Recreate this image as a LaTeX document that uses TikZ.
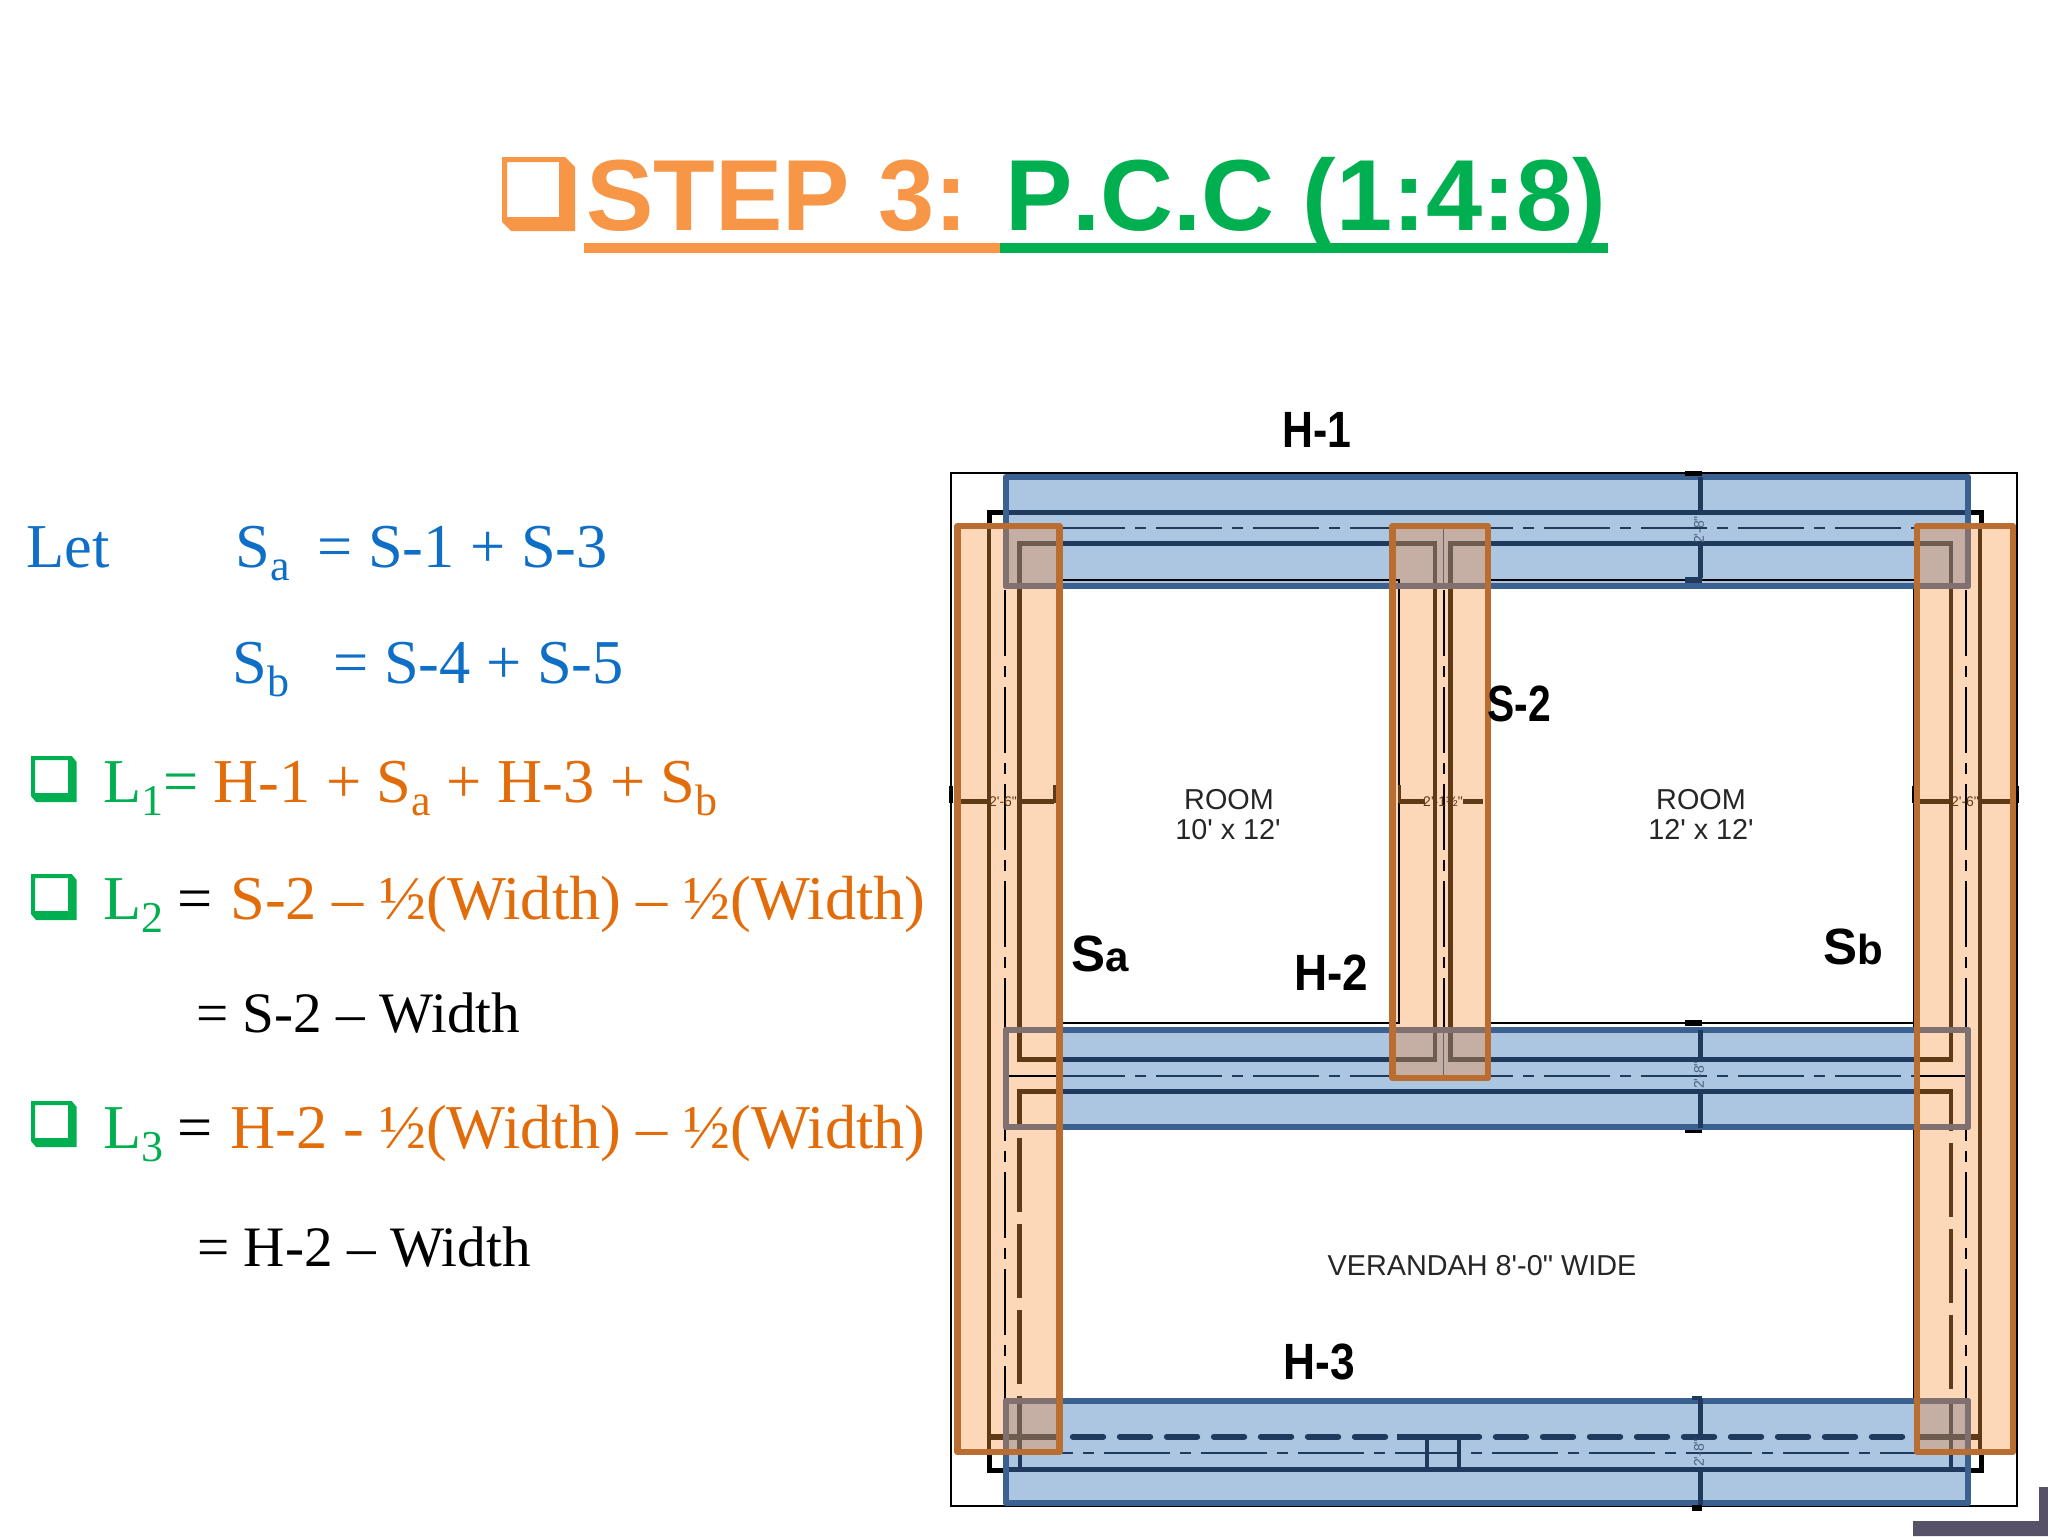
\documentclass[tikz,border=0pt]{standalone}
\usepackage{fontspec}
\setmainfont{Liberation Serif}
\newfontfamily\arial{Liberation Sans}
\newfontfamily\arialnk[Kerning=Off]{Liberation Sans}
\usetikzlibrary{calc}
\definecolor{hfill}{HTML}{ACC5E0}
\definecolor{hline}{HTML}{3A6190}
\definecolor{sfill}{HTML}{FDD8B8}
\definecolor{sline}{HTML}{B96D30}
\definecolor{mixfill}{HTML}{C5AFA5}
\definecolor{mixline}{HTML}{80706F}
\definecolor{mixdark}{HTML}{6E5C50}
\definecolor{navy}{HTML}{1F3A5C}
\definecolor{brownl}{HTML}{5E3A17}
\definecolor{ttlor}{HTML}{F79646}
\definecolor{ttlgr}{HTML}{00B050}
\definecolor{eqblue}{HTML}{0F6FC6}
\definecolor{eqor}{HTML}{E36C0A}
\definecolor{corner}{HTML}{585268}
\tikzset{
 hbox/.style={draw=hline,line width=3pt,line join=round},
 hgray/.style={draw=mixline,line width=3pt,line join=round},
 sbox/.style={draw=sline,line width=3.1pt,line join=round},
 navyl/.style={draw=navy,line width=2.5pt},
 brn/.style={draw=brownl,line width=2.4pt},
 mixl/.style={draw=mixdark,line width=2.4pt},
 blk/.style={draw=black,line width=2.5pt},
 thinb/.style={draw=black,line width=0.8pt},
 cdash/.style={line width=1pt,dash pattern=on 33pt off 5pt on 5.5pt off 5pt},
 ldash/.style={dash pattern=on 37pt off 6pt},
 eq/.style={anchor=base west,inner sep=0pt,font=\fontsize{31.2}{31}\selectfont},
 eqk/.style={anchor=base west,inner sep=0pt,font=\fontsize{28.6}{29}\selectfont},
 lab/.style={anchor=base west,inner sep=0pt,font=\arial\bfseries\fontsize{25.5}{26}\selectfont},
 rm/.style={anchor=base,inner sep=0pt,text=black!85,font=\arial\fontsize{14.4}{15}\selectfont},
 dimt/.style={anchor=center,inner sep=0pt,font=\arial\fontsize{7}{7}\selectfont},
}
\newcommand{\sbs}[1]{\raisebox{-.22em}{\fontsize{22}{22}\selectfont #1}}
\newcommand{\nx}[2][.84]{\scalebox{#1}[1]{#2}}
\begin{document}
\begin{tikzpicture}[x=.5pt,y=-.5pt]
\useasboundingbox (0,0) rectangle (2048,1536);
\fill[white] (0,0) rectangle (2048,1536);
% corner
\fill[corner] (2039,1487)--(2048,1487)--(2048,1536)--(1913,1536)--(1913,1521)--(2039,1521)--cycle;
% title
\fill[ttlor,even odd rule] (502,157)--(565,157)--(575,167)--(575,231)--(511,231)--(502,222)--cycle (507,162) rectangle (559,217);
\node[anchor=base west,inner sep=0pt,font=\arialnk\bfseries\fontsize{50.5}{51}\selectfont] (title) at (586,230) {\textcolor{ttlor}{STEP 3: }\textcolor{ttlgr}{P.C.C (1:4:8)}};
\fill[ttlor] (584,243) rectangle (1000,253);
\fill[ttlgr] (1000,243) rectangle (1608,253);
% outer
\draw[thinb] (951,473) rectangle (2017,1506);
% S fills
\fill[sfill] (957.5,526) rectangle (1059.5,1452);
\fill[sfill] (1392.5,526) rectangle (1488,1078);
\fill[sfill] (1917,526) rectangle (2013,1452);
% H fills
\fill[hfill] (1006,477) rectangle (1968,586);
\fill[hfill] (1059,1030) rectangle (1917,1127);
\fill[hfill] (1006,1401) rectangle (1968,1503);
% overlaps
\fill[mixfill] (1006,526) rectangle (1059,586);
\fill[mixfill] (1917,526) rectangle (1968,586);
\fill[mixfill] (1393,526) rectangle (1487.5,586);
\fill[mixfill] (1393,1030) rectangle (1487.5,1078);
\fill[mixfill] (1006,1401) rectangle (1059,1452);
\fill[mixfill] (1917,1401) rectangle (1968,1452);
% thin drawing lines
\draw[thinb] (1059,580)--(1399,580)--(1399,1023)--(1059,1023);
\draw[thinb] (1487.5,580)--(1914,580);
\draw[thinb] (1487.5,1023)--(1914,1023);
\draw[black,line width=1pt] (1914,586)--(1914,1030) (1914,1127)--(1914,1401);
\draw[thinb] (1006,1076)--(1059,1076) (1917,1076)--(1966,1076);
\draw[black!60,line width=.8pt] (1443.6,526)--(1443.6,586) (1443.6,1030)--(1443.6,1078);
% black corners
\draw[blk] (989,526)--(989,512.3)--(1006,512.3);
\draw[blk] (1968,512.3)--(1981,512.3)--(1981,526);
\draw[blk] (989,1452)--(989,1470)--(1006,1470);
\draw[blk] (1968,1470)--(1981,1470)--(1981,1452);
% S-column lines
\draw[brn] (989,526)--(989,1452);
\draw[brn] (1980,526)--(1980,1452);
\draw[brn] (1059,1059.7)--(1019.6,1059.7)--(1019.6,586);
\draw[brn] (1917,1059.7)--(1951,1059.7)--(1951,586);
\draw[brn,ldash] (1059,1091.3)--(1019.6,1091.3)--(1019.6,1401);
\draw[brn,ldash] (1917,1091.3)--(1951,1091.3)--(1951,1401);
\draw[brn] (1435,586)--(1435,1030);
\draw[brn] (1450.7,586)--(1450.7,1030);
\draw[mixl] (1059,543.7)--(1019.6,543.7)--(1019.6,586);
\draw[mixl] (1917,543.7)--(1951,543.7)--(1951,586);
\draw[mixl] (1393,543.7)--(1435,543.7)--(1435,586);
\draw[mixl] (1487.5,543.7)--(1450.7,543.7)--(1450.7,586);
\draw[mixl] (1393,1059.7)--(1435,1059.7)--(1435,1030);
\draw[mixl] (1487.5,1059.7)--(1450.7,1059.7)--(1450.7,1030);
\draw[mixl,ldash] (1019.6,1401)--(1019.6,1452);
\draw[mixl,ldash] (1951,1401)--(1951,1452);
\draw[navy,line width=2pt] (1019.6,1452)--(1019.6,1469) (1951,1452)--(1951,1469);
% center lines
\draw[black,cdash] (1004.6,590)--(1004.6,1401);
\draw[black,cdash] (1965.7,590)--(1965.7,1401);
\draw[black,cdash] (1443.6,590)--(1443.6,1030);
\draw[navy,cdash] (1059,528)--(1917,528);
\draw[navy,cdash] (1059,1075.7)--(1917,1075.7);
\draw[navy,cdash] (1007,1453)--(1967,1453);
% H lines
\draw[navyl] (1006,512.3)--(1968,512.3);
\draw[navyl] (1059,543.7)--(1393,543.7) (1487.5,543.7)--(1917,543.7);
\draw[navyl] (1059,1059.7)--(1393,1059.7) (1487.5,1059.7)--(1917,1059.7);
\draw[navyl] (1059,1091.3)--(1917,1091.3);
\draw[navyl] (1006,1469.3)--(1968,1469.3);
\draw[navy,line width=3.2pt,line cap=round,dash pattern=on 15pt off 8.5pt] (1073,1436.7)--(1914,1436.7);
\draw[navy,line width=3.2pt] (1397,1436.7)--(1479,1436.7);
\draw[navy,line width=2pt] (1427,1437)--(1427,1469) (1459,1437)--(1459,1469);
\draw[brownl,line width=3.2pt] (989,1436.7)--(1006,1436.7) (1968,1436.7)--(1981,1436.7);
\draw[mixdark,line width=3.2pt] (1006,1436.7)--(1059,1436.7) (1917,1436.7)--(1968,1436.7);
% H strokes
\draw[hbox] (1006,477) rectangle (1968,586);
\draw[hbox] (1006,1030) rectangle (1968,1127);
\draw[hbox] (1006,1401) rectangle (1968,1503);
\begin{scope}
\clip (955,526) rectangle (1059,1452) (1917,526) rectangle (2015,1452) (1393,526) rectangle (1487.5,1078);
\draw[hgray] (1006,477) rectangle (1968,586);
\draw[hgray] (1006,1030) rectangle (1968,1127);
\draw[hgray] (1006,1401) rectangle (1968,1503);
\end{scope}
% dimension lines vertical
\draw[navy,line width=2.5pt] (1700,477)--(1700,510) (1700,546)--(1700,578);
\draw[navy,line width=2.5pt] (1700,1030)--(1700,1059) (1700,1091)--(1700,1128);
\draw[navy,line width=2.5pt] (1700,1399)--(1700,1437) (1700,1469)--(1700,1505);
\fill[black] (1685,471) rectangle (1702,476);
\fill[navy] (1685,577) rectangle (1702,583);
\fill[black] (1685,1020) rectangle (1702,1026);
\fill[black] (1685,1129.5) rectangle (1702,1133);
\fill[navy] (1692,1396) rectangle (1702,1400);
\fill[black] (1692,1505) rectangle (1702,1511);
\node[dimt,rotate=90,text=navy!80] (d1) at (1699,530) {2'-8"};
\node[dimt,rotate=90,text=navy!80] (d2) at (1699,1075) {2'-8"};
\node[dimt,rotate=90,text=navy!80] (d3) at (1699,1453) {2'-8"};
% dimension lines horizontal
\draw[brn] (960,801.7)--(988,801.7) (1018,801.7)--(1054,801.7);
\draw[brn] (1920,801.7)--(1950,801.7) (1980,801.7)--(2010,801.7);
\draw[brn] (1399,801.7)--(1425,801.7) (1463,801.7)--(1483,801.7);
\fill[black] (949,786) rectangle (953,803);
\fill[black] (2015,786) rectangle (2019,803);
\fill[black] (1912,786) rectangle (1915,803);
\fill[brownl] (1052.5,785) rectangle (1055.5,803);
\fill[brownl] (1398,785) rectangle (1401,803);
\node[dimt,text=brownl] (e1) at (1003,802) {2'-6"};
\node[dimt,text=brownl] (e2) at (1443,802) {2'-1½"};
\node[dimt,text=brownl] (e3) at (1965,802) {2'-6"};
% S strokes
\draw[sbox] (957.5,526) rectangle (1059.5,1452);
\draw[sbox] (1392.5,526) rectangle (1488,1078);
\draw[sbox] (1917,526) rectangle (2013,1452);
% room labels
\node[rm] (r1) at (1229,809) {ROOM};
\node[rm] (r1b) at (1228,839) {10' x 12'};
\node[rm] (r2) at (1701,809) {ROOM};
\node[rm] (r2b) at (1701,839) {12' x 12'};
\node[rm] (ver) at (1482,1275) {VERANDAH 8'-0" WIDE};
% bold labels
\node[lab] (h1) at (1282,447) {\nx{H-1}};
\node[lab] (s2) at (1487,721) {\nx[.8]{S-2}};
\node[lab] (h2) at (1294,990) {\nx[.9]{H-2}};
\node[lab] (h3) at (1283,1379) {\nx[.87]{H-3}};
\node[lab] (sa) at (1071,971) {S\fontsize{21}{21}\selectfont a};
\node[lab] (sb) at (1823,964) {S\fontsize{21}{21}\selectfont b};
% equations
\node[eq,text=eqblue] (t1) at (26,567) {Let};
\node[eq,text=eqblue] (t2) at (235,567) {S\sbs{a}};
\node[eq,text=eqblue] (t3) at (317,567) {= S-1 + S-3};
\node[eq,text=eqblue] (t4) at (232,683) {S\sbs{b}};
\node[eq,text=eqblue] (t5) at (333,683) {= S-4 + S-5};
\foreach \yy in {802,920,1147}{
 \fill[ttlgr,even odd rule] (31,\yy-46)--(71.7,\yy-46)--(76.7,\yy-40)--(76.7,\yy)--(36,\yy)--(31,\yy-6)--cycle (35,\yy-42) rectangle (68,\yy-9);
}
\node[eq,text=ttlgr] (t6) at (103,802) {L\sbs{1}=};
\node[eq,text=eqor] (t7) at (213,802) {H-1 + S\sbs{a} + H-3 + S\sbs{b}};
\node[eq,text=ttlgr] (t8) at (103,919) {L\sbs{2}};
\node[eq,text=black] (t9) at (177,919) {=};
\node[eq,text=eqor] (t10) at (230,919) {S-2 – ½(Width) – ½(Width)};
\node[eqk,text=black] (t11) at (196,1032) {= S-2 – Width};
\node[eq,text=ttlgr] (t12) at (103,1148) {L\sbs{3}};
\node[eq,text=black] (t13) at (177,1148) {=};
\node[eq,text=eqor] (t14) at (230,1148) {H-2 - ½(Width) – ½(Width)};
\node[eqk,text=black] (t15) at (197,1266) {= H-2 – Width};
\end{tikzpicture}
\end{document}
